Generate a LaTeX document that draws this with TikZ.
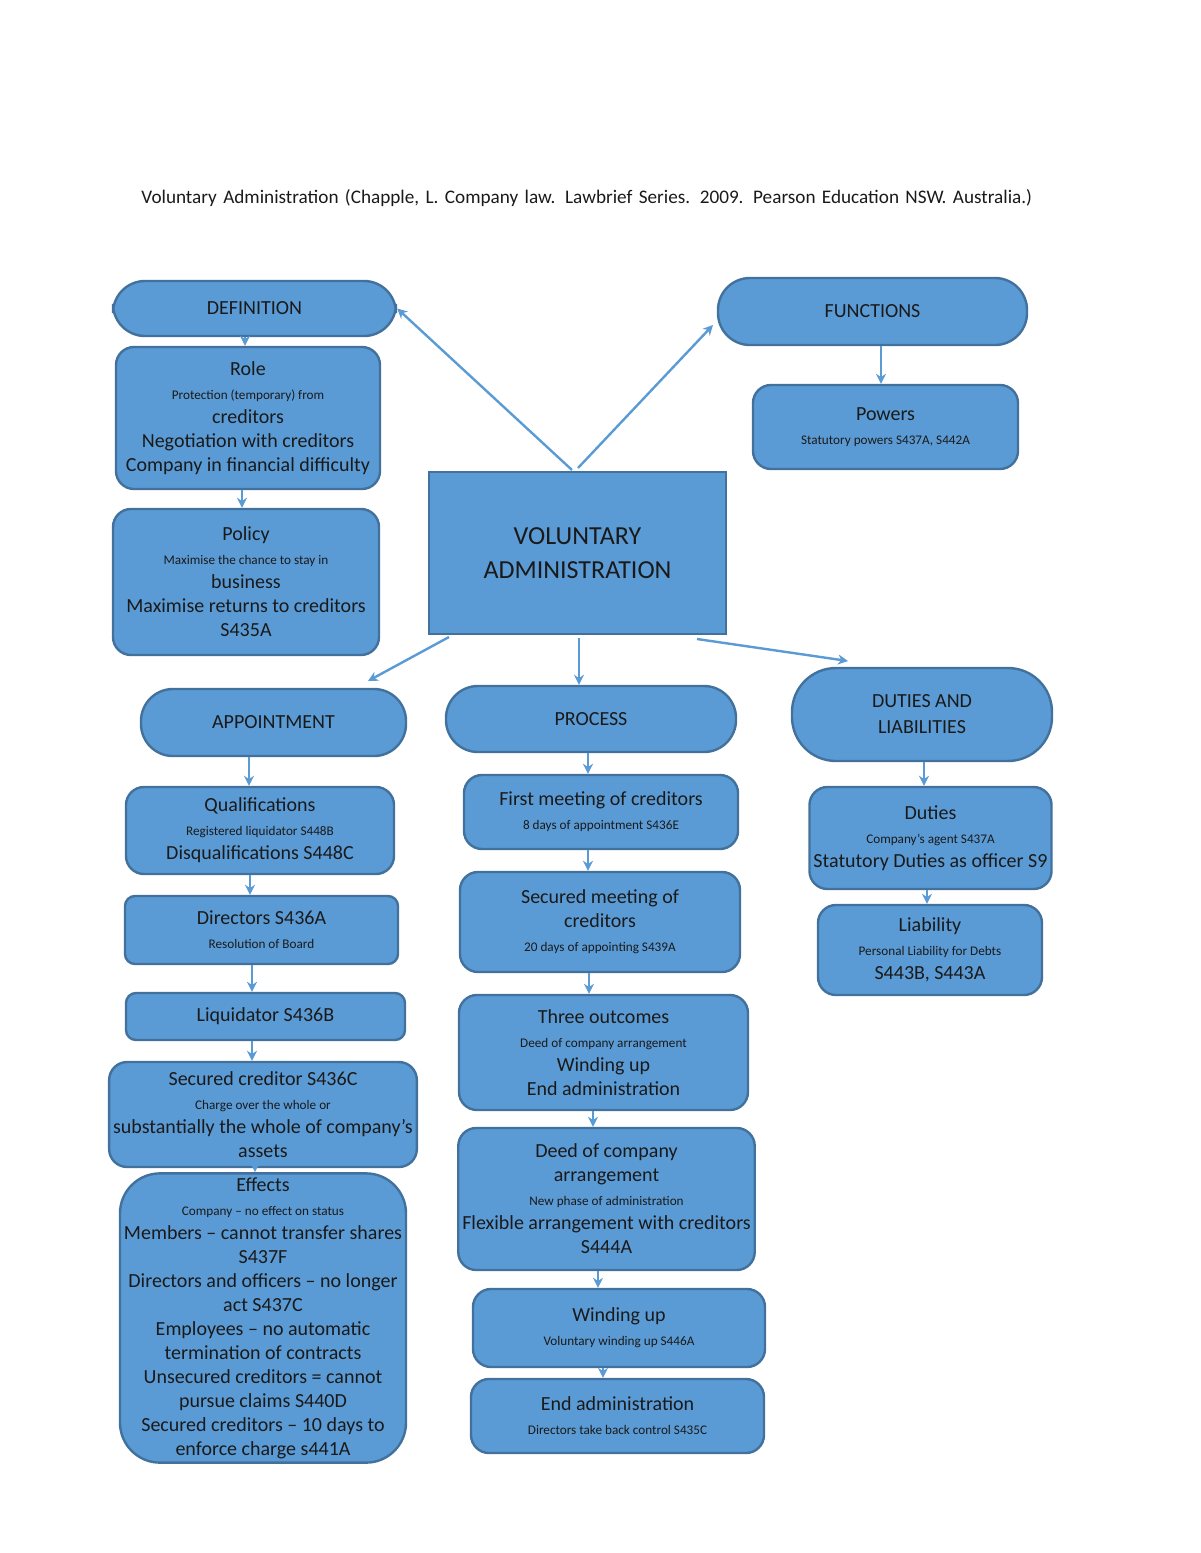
\documentclass[tikz,border=0pt]{standalone}
\usepackage{fontspec}
\setmainfont{Carlito}
\usetikzlibrary{arrows.meta}
\definecolor{fillb}{HTML}{5B9BD5}
\definecolor{edgeb}{HTML}{41719C}
\definecolor{txt}{HTML}{1A1A1A}
\tikzset{
 box/.style={draw=edgeb,fill=fillb,line width=1.2pt,rounded corners=9pt,align=center,text=txt,inner sep=2pt},
 pill/.style={box,rounded corners=16pt},
 arr/.style={draw=fillb,line width=1.2pt,-{Stealth[length=5pt,width=5pt]}},
 hd/.style={font=\fontsize{10}{13}\selectfont},
}
\newcommand{\hfn}{\fontsize{10}{13}\selectfont}
\newcommand{\smf}{\fontsize{6.6}{9.6}\selectfont}
\newcommand{\bx}[7]{\node[#6,minimum width=#4*0.5pt,minimum height=#5*0.5pt] (#1) at (#2,#3) {#7};}
\begin{document}
\begin{tikzpicture}[x=0.5pt,y=-0.5pt]
\useasboundingbox (0,0) rectangle (1200,1553);
\node[anchor=north west,align=left,text width=450pt,font=\fontsize{9.6}{14}\selectfont,text=txt,inner sep=0pt] (title) at (141,189) {Voluntary Administration (Chapple, L. Company law. Lawbrief Series. 2009. Pearson Education NSW. Australia.)};
\bx{def}{254.5}{308.5}{283}{55}{pill,hd}{DEFINITION}
\bx{role}{248}{418}{264}{142}{box}{\hfn Role\\\smf Protection (temporary) from\\creditors\\Negotiation with creditors\\Company in financial difficulty}
\bx{pol}{246}{582}{266}{146}{box}{\hfn Policy\\\smf Maximise the chance to stay in\\business\\Maximise returns to creditors\\S435A}
\bx{fun}{872.5}{311.5}{309}{67}{pill,hd}{FUNCTIONS}
\bx{pow}{885.5}{427}{265}{84}{box}{\hfn Powers\\\smf Statutory powers S437A, S442A}
\bx{va}{577.5}{553}{297}{162}{box,rounded corners=0pt,font=\fontsize{13}{17}\selectfont}{VOLUNTARY\\ADMINISTRATION}
\bx{app}{273.5}{722.5}{265}{67}{pill,hd}{APPOINTMENT}
\bx{pro}{591}{719}{290}{66}{pill,hd}{PROCESS}
\bx{dut}{922}{714.5}{260}{93}{pill,hd,rounded corners=22pt}{DUTIES AND\\LIABILITIES}
\bx{qual}{260}{830.5}{268}{87}{box}{\hfn Qualifications\\\smf Registered liquidator S448B\\Disqualifications S448C}
\bx{dir}{261.5}{930}{273}{68}{box,rounded corners=5pt}{\hfn Directors S436A\\\smf Resolution of Board}
\bx{liq}{265.5}{1016.5}{279}{47}{box,rounded corners=5pt,hd}{Liquidator S436B}
\bx{sec}{263}{1114.5}{280}{105}{box}{\hfn Secured creditor S436C\\\smf Charge over the whole or\\substantially the whole of company's\\assets}
\bx{eff}{263}{1318}{280}{278}{box,rounded corners=20pt}{\hfn Effects\\\smf Company -- no effect on status\\Members -- cannot transfer shares\\S437F\\Directors and officers -- no longer\\act S437C\\Employees -- no automatic\\termination of contracts\\Unsecured creditors = cannot\\pursue claims S440D\\Secured creditors -- 10 days to\\enforce charge s441A}
\bx{first}{601}{812}{274}{74}{box}{\hfn First meeting of creditors\\\smf 8 days of appointment S436E}
\bx{smeet}{600}{922}{280}{100}{box}{\hfn Secured meeting of\\creditors\\\smf 20 days of appointing S439A}
\bx{three}{603.5}{1052.5}{289}{115}{box}{\hfn Three outcomes\\\smf Deed of company arrangement\\Winding up\\End administration}
\bx{deed}{606.5}{1199}{281}{142}{box}{\hfn Deed of company\\arrangement\\\smf New phase of administration\\Flexible arrangement with creditors\\S444A}
\bx{wind}{619}{1328}{292}{78}{box}{\hfn Winding up\\\smf Voluntary winding up S446A}
\bx{endad}{617.5}{1416}{293}{74}{box}{\hfn End administration\\\smf Directors take back control S435C}
\bx{duties}{930.5}{838}{227}{102}{box}{\hfn Duties\\\smf Company's agent S437A\\Statutory Duties as officer S9}
\bx{liab}{930}{950}{224}{90}{box}{\hfn Liability\\\smf Personal Liability for Debts\\S443B, S443A}
\coordinate (v1) at (572,470); \coordinate (v2) at (578,468);
\coordinate (v3) at (449,637); \coordinate (v4) at (579,638); \coordinate (v5) at (697,639);
\coordinate (fe) at (713,325); \coordinate (ae) at (368,681); \coordinate (de) at (848,661);
\draw[arr] (v1) -- (def.east);
\draw[arr] (v2) -- (fe);
\draw[arr] (v3) -- (ae);
\draw[arr] (v4) -- (pro.north -| v4);
\draw[arr] (v5) -- (de);
\foreach \a/\b/\x in {def/role/245,role/pol/242,fun/pow/881,app/qual/249,qual/dir/250,dir/liq/252,liq/sec/252,sec/eff/255,pro/first/588,first/smeet/588,smeet/three/589,three/deed/593,deed/wind/598,wind/endad/603,dut/duties/924,duties/liab/927}
  \draw[arr] (\a.south -| \x,0) -- (\b.north -| \x,0);
\end{tikzpicture}
\end{document}
